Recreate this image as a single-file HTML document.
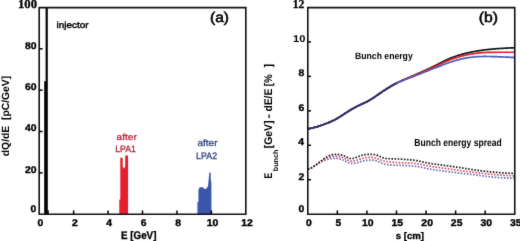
<!DOCTYPE html>
<html><head><meta charset="utf-8"><style>
html,body{margin:0;padding:0;background:#fff;}
body{width:520px;height:241px;overflow:hidden;}
svg{display:block;} text{white-space:pre;text-rendering:geometricPrecision;}
</style></head><body>
<svg width="520" height="241" viewBox="0 0 520 241">
<defs><filter id="soft" x="0" y="0" width="520" height="241" filterUnits="userSpaceOnUse" color-interpolation-filters="sRGB"><feConvolveMatrix order="3" kernelMatrix="0.01 0.07 0.01 0.07 0.68 0.07 0.01 0.07 0.01" edgeMode="duplicate"/></filter></defs>
<g filter="url(#soft)">
<rect width="520" height="241" fill="#fff"/>
<path d="M45.6,7.6 H47.8 V214.2 H45.6Z" fill="#000"/>
<path d="M44.2,81.2 H46 V214.2 H44.2Z" fill="#000"/>
<path d="M47.5,210.3 H48.8 V214 H47.5Z" fill="#000"/>
<path d="M119.3,214.2 V199.5 H120.3 V157.7 H122.7 V166.5 L123.9,168.8 L125.2,166.5 V155.6 H128.1 V214.2 Z" fill="#E3202B"/>
<path d="M197.4,214.2 V202 H198.4 V190 L199.5,187.5 L202.5,187 L204.5,189 L206.5,188.5 L208,186 L209,176 L209.3,172.4 L210.6,172.4 L210.8,180 L211.4,182.5 L211.4,214.2 Z" fill="#3A57AC"/>
<path d="M39.2,214.2 V7.6 H245.8 V214.2 Z" fill="none" stroke="#111" stroke-width="1.6"/>
<path d="M39.5,172.85 H42.6" stroke="#000" stroke-width="1.5"/>
<path d="M39.5,131.5 H42.6" stroke="#000" stroke-width="1.5"/>
<path d="M39.5,90.15 H42.6" stroke="#000" stroke-width="1.5"/>
<path d="M39.5,48.8 H42.6" stroke="#000" stroke-width="1.5"/>
<path d="M73.63,214 V210.4" stroke="#000" stroke-width="1.5"/>
<path d="M108.07,214 V210.4" stroke="#000" stroke-width="1.5"/>
<path d="M142.5,214 V210.4" stroke="#000" stroke-width="1.5"/>
<path d="M176.94,214 V210.4" stroke="#000" stroke-width="1.5"/>
<path d="M211.37,214 V210.4" stroke="#000" stroke-width="1.5"/>
<g fill="none" stroke-width="1.7" stroke-linejoin="round">
<path d="M307.8,128.8 308.49,128.71 309.18,128.6 309.86,128.48 310.55,128.35 311.24,128.21 311.93,128.06 312.61,127.9 313.3,127.73 313.99,127.55 314.68,127.37 315.36,127.18 316.05,126.98 316.74,126.77 317.43,126.57 318.11,126.35 318.8,126.14 319.49,125.92 320.18,125.69 320.86,125.46 321.55,125.23 322.24,125 322.93,124.76 323.61,124.51 324.3,124.26 324.99,124.01 325.68,123.75 326.36,123.48 327.05,123.21 327.74,122.94 328.43,122.66 329.11,122.37 329.8,122.07 330.49,121.77 331.18,121.46 331.86,121.14 332.55,120.82 333.24,120.48 333.93,120.14 334.61,119.78 335.3,119.42 335.99,119.04 336.68,118.66 337.37,118.27 338.05,117.87 338.74,117.46 339.43,117.04 340.12,116.61 340.8,116.17 341.49,115.73 342.18,115.29 342.87,114.84 343.55,114.39 344.24,113.94 344.93,113.49 345.62,113.04 346.3,112.59 346.99,112.14 347.68,111.7 348.37,111.26 349.05,110.83 349.74,110.41 350.43,109.99 351.12,109.58 351.8,109.17 352.49,108.77 353.18,108.39 353.87,108.01 354.55,107.63 355.24,107.27 355.93,106.91 356.62,106.56 357.3,106.22 357.99,105.89 358.68,105.56 359.37,105.23 360.05,104.91 360.74,104.59 361.43,104.28 362.12,103.96 362.8,103.64 363.49,103.32 364.18,103 364.87,102.67 365.55,102.33 366.24,101.99 366.93,101.64 367.62,101.28 368.31,100.91 368.99,100.53 369.68,100.13 370.37,99.73 371.06,99.31 371.74,98.89 372.43,98.45 373.12,98 373.81,97.55 374.49,97.08 375.18,96.61 375.87,96.14 376.56,95.66 377.24,95.18 377.93,94.7 378.62,94.23 379.31,93.75 379.99,93.27 380.68,92.8 381.37,92.34 382.06,91.87 382.74,91.41 383.43,90.96 384.12,90.51 384.81,90.06 385.49,89.61 386.18,89.17 386.87,88.73 387.56,88.29 388.24,87.86 388.93,87.43 389.62,87 390.31,86.58 390.99,86.16 391.68,85.75 392.37,85.35 393.06,84.95 393.74,84.56 394.43,84.17 395.12,83.8 395.81,83.43 396.5,83.07 397.18,82.73 397.87,82.39 398.56,82.05 399.25,81.73 399.93,81.41 400.62,81.09 401.31,80.79 402,80.48 402.68,80.18 403.37,79.88 404.06,79.59 404.75,79.29 405.43,79 406.12,78.71 406.81,78.42 407.5,78.12 408.18,77.83 408.87,77.54 409.56,77.24 410.25,76.95 410.93,76.65 411.62,76.36 412.31,76.06 413,75.76 413.68,75.46 414.37,75.16 415.06,74.86 415.75,74.56 416.43,74.25 417.12,73.95 417.81,73.64 418.5,73.34 419.18,73.03 419.87,72.72 420.56,72.41 421.25,72.1 421.93,71.79 422.62,71.48 423.31,71.17 424,70.86 424.68,70.54 425.37,70.23 426.06,69.91 426.75,69.6 427.44,69.28 428.12,68.96 428.81,68.64 429.5,68.31 430.19,67.99 430.87,67.66 431.56,67.33 432.25,67 432.94,66.67 433.62,66.34 434.31,66 435,65.66 435.69,65.32 436.37,64.98 437.06,64.64 437.75,64.29 438.44,63.94 439.12,63.6 439.81,63.25 440.5,62.9 441.19,62.55 441.87,62.2 442.56,61.86 443.25,61.51 443.94,61.17 444.62,60.84 445.31,60.5 446,60.18 446.69,59.85 447.37,59.53 448.06,59.22 448.75,58.92 449.44,58.62 450.12,58.33 450.81,58.04 451.5,57.76 452.19,57.49 452.87,57.23 453.56,56.97 454.25,56.72 454.94,56.47 455.62,56.23 456.31,56 457,55.77 457.69,55.55 458.38,55.33 459.06,55.12 459.75,54.91 460.44,54.71 461.13,54.51 461.81,54.32 462.5,54.13 463.19,53.94 463.88,53.76 464.56,53.59 465.25,53.41 465.94,53.25 466.63,53.08 467.31,52.92 468,52.76 468.69,52.61 469.38,52.46 470.06,52.32 470.75,52.17 471.44,52.03 472.13,51.9 472.81,51.77 473.5,51.64 474.19,51.51 474.88,51.38 475.56,51.26 476.25,51.15 476.94,51.03 477.63,50.92 478.31,50.81 479,50.7 479.69,50.6 480.38,50.5 481.06,50.4 481.75,50.3 482.44,50.21 483.13,50.12 483.81,50.03 484.5,49.94 485.19,49.86 485.88,49.77 486.57,49.69 487.25,49.62 487.94,49.54 488.63,49.47 489.32,49.39 490,49.32 490.69,49.25 491.38,49.19 492.07,49.12 492.75,49.06 493.44,49 494.13,48.94 494.82,48.88 495.5,48.82 496.19,48.77 496.88,48.72 497.57,48.67 498.25,48.62 498.94,48.57 499.63,48.52 500.32,48.48 501,48.43 501.69,48.39 502.38,48.35 503.07,48.3 503.75,48.26 504.44,48.23 505.13,48.19 505.82,48.15 506.5,48.12 507.19,48.09 507.88,48.05 508.57,48.02 509.25,48 509.94,47.97 510.63,47.94 511.32,47.92 512,47.9 512.69,47.88 513.38,47.86 514.07,47.85 514.75,47.83" stroke="#111"/>
<path d="M307.8,128.8 308.49,128.71 309.18,128.6 309.86,128.48 310.55,128.35 311.24,128.21 311.93,128.06 312.61,127.9 313.3,127.73 313.99,127.55 314.68,127.37 315.36,127.18 316.05,126.98 316.74,126.77 317.43,126.57 318.11,126.35 318.8,126.14 319.49,125.92 320.18,125.69 320.86,125.46 321.55,125.23 322.24,125 322.93,124.76 323.61,124.51 324.3,124.26 324.99,124.01 325.68,123.75 326.36,123.48 327.05,123.21 327.74,122.94 328.43,122.66 329.11,122.37 329.8,122.07 330.49,121.77 331.18,121.46 331.86,121.14 332.55,120.82 333.24,120.48 333.93,120.14 334.61,119.78 335.3,119.42 335.99,119.04 336.68,118.66 337.37,118.27 338.05,117.87 338.74,117.46 339.43,117.04 340.12,116.61 340.8,116.17 341.49,115.73 342.18,115.29 342.87,114.84 343.55,114.39 344.24,113.94 344.93,113.49 345.62,113.04 346.3,112.59 346.99,112.14 347.68,111.7 348.37,111.26 349.05,110.83 349.74,110.41 350.43,109.99 351.12,109.58 351.8,109.17 352.49,108.77 353.18,108.39 353.87,108.01 354.55,107.63 355.24,107.27 355.93,106.91 356.62,106.56 357.3,106.22 357.99,105.89 358.68,105.56 359.37,105.23 360.05,104.91 360.74,104.59 361.43,104.28 362.12,103.96 362.8,103.64 363.49,103.32 364.18,103 364.87,102.67 365.55,102.33 366.24,101.99 366.93,101.64 367.62,101.28 368.31,100.91 368.99,100.53 369.68,100.13 370.37,99.73 371.06,99.31 371.74,98.89 372.43,98.45 373.12,98 373.81,97.55 374.49,97.08 375.18,96.61 375.87,96.14 376.56,95.66 377.24,95.18 377.93,94.7 378.62,94.23 379.31,93.75 379.99,93.27 380.68,92.8 381.37,92.34 382.06,91.87 382.74,91.41 383.43,90.96 384.12,90.5 384.81,90.06 385.49,89.61 386.18,89.17 386.87,88.73 387.56,88.29 388.24,87.86 388.93,87.43 389.62,87 390.31,86.58 390.99,86.16 391.68,85.75 392.37,85.35 393.06,84.96 393.74,84.57 394.43,84.19 395.12,83.82 395.81,83.46 396.5,83.11 397.18,82.77 397.87,82.44 398.56,82.11 399.25,81.8 399.93,81.49 400.62,81.19 401.31,80.89 402,80.59 402.68,80.3 403.37,80.01 404.06,79.72 404.75,79.44 405.43,79.15 406.12,78.86 406.81,78.57 407.5,78.29 408.18,78 408.87,77.71 409.56,77.42 410.25,77.13 410.93,76.83 411.62,76.54 412.31,76.25 413,75.96 413.68,75.66 414.37,75.37 415.06,75.08 415.75,74.78 416.43,74.49 417.12,74.19 417.81,73.9 418.5,73.6 419.18,73.31 419.87,73.01 420.56,72.72 421.25,72.42 421.93,72.12 422.62,71.83 423.31,71.53 424,71.23 424.68,70.93 425.37,70.63 426.06,70.34 426.75,70.04 427.44,69.74 428.12,69.44 428.81,69.15 429.5,68.85 430.19,68.55 430.87,68.25 431.56,67.95 432.25,67.66 432.94,67.36 433.62,67.06 434.31,66.75 435,66.45 435.69,66.15 436.37,65.84 437.06,65.54 437.75,65.23 438.44,64.92 439.12,64.6 439.81,64.29 440.5,63.98 441.19,63.66 441.87,63.35 442.56,63.04 443.25,62.73 443.94,62.42 444.62,62.11 445.31,61.81 446,61.51 446.69,61.21 447.37,60.92 448.06,60.63 448.75,60.35 449.44,60.08 450.12,59.81 450.81,59.55 451.5,59.29 452.19,59.04 452.87,58.8 453.56,58.56 454.25,58.32 454.94,58.1 455.62,57.87 456.31,57.65 457,57.44 457.69,57.23 458.38,57.03 459.06,56.83 459.75,56.64 460.44,56.45 461.13,56.27 461.81,56.09 462.5,55.92 463.19,55.75 463.88,55.58 464.56,55.42 465.25,55.27 465.94,55.11 466.63,54.97 467.31,54.82 468,54.68 468.69,54.54 469.38,54.41 470.06,54.28 470.75,54.15 471.44,54.03 472.13,53.91 472.81,53.8 473.5,53.69 474.19,53.58 474.88,53.48 475.56,53.38 476.25,53.29 476.94,53.2 477.63,53.12 478.31,53.04 479,52.97 479.69,52.91 480.38,52.84 481.06,52.79 481.75,52.74 482.44,52.69 483.13,52.64 483.81,52.61 484.5,52.57 485.19,52.54 485.88,52.51 486.57,52.48 487.25,52.45 487.94,52.43 488.63,52.41 489.32,52.39 490,52.37 490.69,52.36 491.38,52.34 492.07,52.33 492.75,52.32 493.44,52.31 494.13,52.3 494.82,52.29 495.5,52.28 496.19,52.28 496.88,52.27 497.57,52.27 498.25,52.26 498.94,52.26 499.63,52.26 500.32,52.25 501,52.25 501.69,52.25 502.38,52.25 503.07,52.25 503.75,52.25 504.44,52.25 505.13,52.25 505.82,52.25 506.5,52.25 507.19,52.25 507.88,52.25 508.57,52.25 509.25,52.25 509.94,52.25 510.63,52.25 511.32,52.25 512,52.25 512.69,52.25 513.38,52.25 514.07,52.25 514.75,52.25" stroke="#E0202A"/>
<path d="M307.8,128.8 308.49,128.71 309.18,128.6 309.86,128.48 310.55,128.35 311.24,128.21 311.93,128.06 312.61,127.9 313.3,127.73 313.99,127.55 314.68,127.37 315.36,127.18 316.05,126.98 316.74,126.77 317.43,126.57 318.11,126.35 318.8,126.14 319.49,125.92 320.18,125.69 320.86,125.46 321.55,125.23 322.24,125 322.93,124.76 323.61,124.51 324.3,124.26 324.99,124.01 325.68,123.75 326.36,123.48 327.05,123.21 327.74,122.94 328.43,122.66 329.11,122.37 329.8,122.07 330.49,121.77 331.18,121.46 331.86,121.14 332.55,120.82 333.24,120.48 333.93,120.14 334.61,119.78 335.3,119.42 335.99,119.04 336.68,118.66 337.37,118.27 338.05,117.87 338.74,117.46 339.43,117.04 340.12,116.61 340.8,116.17 341.49,115.73 342.18,115.29 342.87,114.84 343.55,114.39 344.24,113.94 344.93,113.49 345.62,113.04 346.3,112.59 346.99,112.14 347.68,111.7 348.37,111.26 349.05,110.83 349.74,110.41 350.43,109.99 351.12,109.58 351.8,109.17 352.49,108.77 353.18,108.39 353.87,108.01 354.55,107.63 355.24,107.27 355.93,106.91 356.62,106.56 357.3,106.22 357.99,105.89 358.68,105.56 359.37,105.23 360.05,104.91 360.74,104.59 361.43,104.28 362.12,103.96 362.8,103.64 363.49,103.32 364.18,103 364.87,102.67 365.55,102.33 366.24,101.99 366.93,101.64 367.62,101.28 368.31,100.91 368.99,100.53 369.68,100.13 370.37,99.73 371.06,99.31 371.74,98.89 372.43,98.45 373.12,98 373.81,97.55 374.49,97.08 375.18,96.61 375.87,96.14 376.56,95.66 377.24,95.18 377.93,94.7 378.62,94.22 379.31,93.75 379.99,93.27 380.68,92.8 381.37,92.33 382.06,91.87 382.74,91.41 383.43,90.96 384.12,90.51 384.81,90.06 385.49,89.62 386.18,89.19 386.87,88.75 387.56,88.32 388.24,87.9 388.93,87.47 389.62,87.06 390.31,86.65 390.99,86.24 391.68,85.84 392.37,85.45 393.06,85.07 393.74,84.69 394.43,84.33 395.12,83.97 395.81,83.63 396.5,83.29 397.18,82.96 397.87,82.65 398.56,82.34 399.25,82.03 399.93,81.74 400.62,81.45 401.31,81.17 402,80.89 402.68,80.62 403.37,80.34 404.06,80.08 404.75,79.81 405.43,79.54 406.12,79.28 406.81,79.01 407.5,78.75 408.18,78.48 408.87,78.22 409.56,77.95 410.25,77.68 410.93,77.42 411.62,77.15 412.31,76.89 413,76.62 413.68,76.35 414.37,76.09 415.06,75.82 415.75,75.55 416.43,75.28 417.12,75.01 417.81,74.74 418.5,74.47 419.18,74.2 419.87,73.93 420.56,73.66 421.25,73.38 421.93,73.11 422.62,72.83 423.31,72.55 424,72.28 424.68,72 425.37,71.72 426.06,71.44 426.75,71.17 427.44,70.89 428.12,70.62 428.81,70.34 429.5,70.07 430.19,69.8 430.87,69.54 431.56,69.27 432.25,69 432.94,68.74 433.62,68.48 434.31,68.22 435,67.96 435.69,67.69 436.37,67.43 437.06,67.17 437.75,66.91 438.44,66.64 439.12,66.38 439.81,66.12 440.5,65.85 441.19,65.59 441.87,65.32 442.56,65.05 443.25,64.79 443.94,64.53 444.62,64.27 445.31,64.01 446,63.75 446.69,63.5 447.37,63.24 448.06,63 448.75,62.75 449.44,62.51 450.12,62.28 450.81,62.04 451.5,61.81 452.19,61.59 452.87,61.37 453.56,61.15 454.25,60.94 454.94,60.73 455.62,60.52 456.31,60.32 457,60.12 457.69,59.93 458.38,59.74 459.06,59.56 459.75,59.38 460.44,59.21 461.13,59.05 461.81,58.89 462.5,58.73 463.19,58.58 463.88,58.44 464.56,58.31 465.25,58.18 465.94,58.05 466.63,57.93 467.31,57.82 468,57.71 468.69,57.61 469.38,57.51 470.06,57.42 470.75,57.33 471.44,57.24 472.13,57.16 472.81,57.09 473.5,57.02 474.19,56.95 474.88,56.88 475.56,56.83 476.25,56.77 476.94,56.72 477.63,56.67 478.31,56.63 479,56.6 479.69,56.57 480.38,56.54 481.06,56.52 481.75,56.5 482.44,56.48 483.13,56.47 483.81,56.46 484.5,56.46 485.19,56.46 485.88,56.46 486.57,56.47 487.25,56.48 487.94,56.48 488.63,56.5 489.32,56.51 490,56.52 490.69,56.54 491.38,56.55 492.07,56.57 492.75,56.59 493.44,56.61 494.13,56.63 494.82,56.65 495.5,56.67 496.19,56.69 496.88,56.72 497.57,56.74 498.25,56.77 498.94,56.79 499.63,56.82 500.32,56.84 501,56.87 501.69,56.9 502.38,56.93 503.07,56.96 503.75,56.99 504.44,57.02 505.13,57.05 505.82,57.08 506.5,57.12 507.19,57.15 507.88,57.18 508.57,57.22 509.25,57.25 509.94,57.28 510.63,57.32 511.32,57.35 512,57.38 512.69,57.4 513.38,57.43 514.07,57.45 514.75,57.47" stroke="#4A5DB5"/>
<path d="M307.8,128.8 308.49,128.71 309.18,128.6 309.86,128.48 310.55,128.35 311.24,128.21 311.93,128.06 312.61,127.9 313.3,127.73 313.99,127.55 314.68,127.37 315.36,127.18 316.05,126.98 316.74,126.77 317.43,126.57 318.11,126.35 318.8,126.14 319.49,125.92 320.18,125.69 320.86,125.46 321.55,125.23 322.24,125 322.93,124.76 323.61,124.51 324.3,124.26 324.99,124.01 325.68,123.75 326.36,123.48 327.05,123.21 327.74,122.94 328.43,122.66 329.11,122.37 329.8,122.07 330.49,121.77 331.18,121.46 331.86,121.14 332.55,120.82 333.24,120.48 333.93,120.14 334.61,119.78 335.3,119.42 335.99,119.04 336.68,118.66 337.37,118.27 338.05,117.87 338.74,117.46 339.43,117.04 340.12,116.61 340.8,116.17 341.49,115.73 342.18,115.29 342.87,114.84 343.55,114.39 344.24,113.94 344.93,113.49 345.62,113.04 346.3,112.59 346.99,112.14 347.68,111.7 348.37,111.26 349.05,110.83 349.74,110.41 350.43,109.99 351.12,109.58 351.8,109.17 352.49,108.77 353.18,108.39 353.87,108.01 354.55,107.63 355.24,107.27 355.93,106.91 356.62,106.56 357.3,106.22 357.99,105.89 358.68,105.56 359.37,105.23 360.05,104.91 360.74,104.59 361.43,104.28 362.12,103.96 362.8,103.64 363.49,103.32 364.18,103 364.87,102.67 365.55,102.33 366.24,101.99 366.93,101.64 367.62,101.28 368.31,100.91 368.99,100.53 369.68,100.13 370.37,99.73 371.06,99.31 371.74,98.89 372.43,98.45 373.12,98 373.81,97.55 374.49,97.08 375.18,96.61 375.87,96.14 376.56,95.66 377.24,95.18 377.93,94.7 378.62,94.22 379.31,93.75 379.99,93.27 380.68,92.8 381.37,92.33 382.06,91.87 382.74,91.41 383.43,90.96 384.12,90.51 384.81,90.06 385.49,89.62 386.18,89.19 386.87,88.75 387.56,88.32 388.24,87.9 388.93,87.47 389.62,87.06 390.31,86.65 390.99,86.24 391.68,85.84 392.37,85.45 393.06,85.07 393.74,84.69 394.43,84.33 395.12,83.97 395.81,83.63 396.5,83.29" stroke="#2E2C62"/>
</g>
<g fill="none" stroke-width="1.7" stroke-dasharray="1.6 1.5">
<path d="M307.8,169.07 308.49,168.92 309.18,168.74 309.86,168.51 310.55,168.24 311.24,167.92 311.93,167.57 312.61,167.18 313.3,166.76 313.99,166.32 314.68,165.87 315.36,165.4 316.05,164.94 316.74,164.47 317.43,164.02 318.11,163.57 318.8,163.14 319.49,162.73 320.18,162.33 320.86,161.96 321.55,161.6 322.24,161.26 322.93,160.94 323.61,160.64 324.3,160.36 324.99,160.1 325.68,159.86 326.36,159.63 327.05,159.42 327.74,159.23 328.43,159.06 329.11,158.91 329.8,158.77 330.49,158.65 331.18,158.56 331.86,158.48 332.55,158.42 333.24,158.38 333.93,158.35 334.61,158.35 335.3,158.36 335.99,158.4 336.68,158.45 337.37,158.53 338.05,158.63 338.74,158.76 339.43,158.9 340.12,159.06 340.8,159.25 341.49,159.46 342.18,159.68 342.87,159.93 343.55,160.2 344.24,160.49 344.93,160.8 345.62,161.13 346.3,161.46 346.99,161.8 347.68,162.14 348.37,162.45 349.05,162.73 349.74,162.97 350.43,163.16 351.12,163.3 351.8,163.39 352.49,163.41 353.18,163.39 353.87,163.32 354.55,163.22 355.24,163.08 355.93,162.92 356.62,162.75 357.3,162.56 357.99,162.37 358.68,162.18 359.37,161.99 360.05,161.8 360.74,161.61 361.43,161.43 362.12,161.26 362.8,161.09 363.49,160.93 364.18,160.78 364.87,160.65 365.55,160.53 366.24,160.42 366.93,160.34 367.62,160.27 368.31,160.22 368.99,160.18 369.68,160.15 370.37,160.14 371.06,160.14 371.74,160.15 372.43,160.18 373.12,160.22 373.81,160.29 374.49,160.39 375.18,160.51 375.87,160.68 376.56,160.88 377.24,161.12 377.93,161.4 378.62,161.7 379.31,162.02 379.99,162.36 380.68,162.69 381.37,163.01 382.06,163.32 382.74,163.6 383.43,163.85 384.12,164.07 384.81,164.25 385.49,164.4 386.18,164.52 386.87,164.62 387.56,164.7 388.24,164.76 388.93,164.81 389.62,164.85 390.31,164.89 390.99,164.92 391.68,164.95 392.37,164.98 393.06,165 393.74,165.03 394.43,165.06 395.12,165.08 395.81,165.1 396.5,165.13 397.18,165.16 397.87,165.18 398.56,165.21 399.25,165.24 399.93,165.27 400.62,165.3 401.31,165.33 402,165.37 402.68,165.4 403.37,165.43 404.06,165.47 404.75,165.5 405.43,165.53 406.12,165.57 406.81,165.6 407.5,165.64 408.18,165.68 408.87,165.72 409.56,165.76 410.25,165.81 410.93,165.85 411.62,165.9 412.31,165.95 413,166.01 413.68,166.07 414.37,166.14 415.06,166.22 415.75,166.3 416.43,166.39 417.12,166.49 417.81,166.6 418.5,166.72 419.18,166.84 419.87,166.97 420.56,167.11 421.25,167.25 421.93,167.4 422.62,167.55 423.31,167.71 424,167.86 424.68,168.01 425.37,168.16 426.06,168.31 426.75,168.46 427.44,168.6 428.12,168.74 428.81,168.87 429.5,169 430.19,169.13 430.87,169.25 431.56,169.37 432.25,169.49 432.94,169.6 433.62,169.71 434.31,169.82 435,169.92 435.69,170.03 436.37,170.13 437.06,170.23 437.75,170.33 438.44,170.43 439.12,170.52 439.81,170.61 440.5,170.71 441.19,170.79 441.87,170.88 442.56,170.97 443.25,171.05 443.94,171.13 444.62,171.22 445.31,171.3 446,171.38 446.69,171.46 447.37,171.54 448.06,171.62 448.75,171.71 449.44,171.79 450.12,171.88 450.81,171.96 451.5,172.05 452.19,172.13 452.87,172.22 453.56,172.31 454.25,172.4 454.94,172.48 455.62,172.57 456.31,172.66 457,172.75 457.69,172.83 458.38,172.92 459.06,173 459.75,173.09 460.44,173.17 461.13,173.26 461.81,173.34 462.5,173.43 463.19,173.51 463.88,173.59 464.56,173.67 465.25,173.76 465.94,173.84 466.63,173.92 467.31,174 468,174.08 468.69,174.16 469.38,174.24 470.06,174.32 470.75,174.4 471.44,174.48 472.13,174.56 472.81,174.65 473.5,174.73 474.19,174.81 474.88,174.89 475.56,174.97 476.25,175.05 476.94,175.13 477.63,175.21 478.31,175.3 479,175.38 479.69,175.46 480.38,175.55 481.06,175.63 481.75,175.72 482.44,175.81 483.13,175.9 483.81,175.98 484.5,176.07 485.19,176.16 485.88,176.25 486.57,176.33 487.25,176.42 487.94,176.5 488.63,176.58 489.32,176.67 490,176.74 490.69,176.82 491.38,176.9 492.07,176.97 492.75,177.04 493.44,177.1 494.13,177.17 494.82,177.23 495.5,177.29 496.19,177.34 496.88,177.4 497.57,177.45 498.25,177.5 498.94,177.55 499.63,177.6 500.32,177.65 501,177.69 501.69,177.74 502.38,177.78 503.07,177.83 503.75,177.87 504.44,177.91 505.13,177.95 505.82,177.99 506.5,178.03 507.19,178.06 507.88,178.1 508.57,178.13 509.25,178.16 509.94,178.19 510.63,178.22 511.32,178.24 512,178.27 512.69,178.29 513.38,178.3 514.07,178.32 514.75,178.33" stroke="#6670A8"/>
<path d="M307.8,169.07 308.49,168.92 309.18,168.74 309.86,168.51 310.55,168.24 311.24,167.93 311.93,167.57 312.61,167.18 313.3,166.76 313.99,166.31 314.68,165.84 315.36,165.36 316.05,164.87 316.74,164.38 317.43,163.89 318.11,163.4 318.8,162.92 319.49,162.45 320.18,161.98 320.86,161.53 321.55,161.09 322.24,160.66 322.93,160.24 323.61,159.84 324.3,159.45 324.99,159.09 325.68,158.74 326.36,158.41 327.05,158.1 327.74,157.81 328.43,157.55 329.11,157.31 329.8,157.1 330.49,156.91 331.18,156.75 331.86,156.62 332.55,156.51 333.24,156.43 333.93,156.37 334.61,156.34 335.3,156.33 335.99,156.34 336.68,156.38 337.37,156.44 338.05,156.53 338.74,156.64 339.43,156.77 340.12,156.92 340.8,157.09 341.49,157.28 342.18,157.49 342.87,157.72 343.55,157.98 344.24,158.26 344.93,158.56 345.62,158.88 346.3,159.22 346.99,159.55 347.68,159.88 348.37,160.19 349.05,160.47 349.74,160.71 350.43,160.89 351.12,161.02 351.8,161.09 352.49,161.1 353.18,161.05 353.87,160.95 354.55,160.81 355.24,160.64 355.93,160.43 356.62,160.22 357.3,159.99 357.99,159.75 358.68,159.52 359.37,159.29 360.05,159.07 360.74,158.85 361.43,158.64 362.12,158.44 362.8,158.25 363.49,158.08 364.18,157.91 364.87,157.77 365.55,157.64 366.24,157.54 366.93,157.45 367.62,157.39 368.31,157.35 368.99,157.33 369.68,157.34 370.37,157.36 371.06,157.4 371.74,157.46 372.43,157.53 373.12,157.62 373.81,157.73 374.49,157.86 375.18,158.01 375.87,158.19 376.56,158.39 377.24,158.61 377.93,158.85 378.62,159.11 379.31,159.38 379.99,159.65 380.68,159.93 381.37,160.19 382.06,160.44 382.74,160.68 383.43,160.89 384.12,161.08 384.81,161.25 385.49,161.4 386.18,161.53 386.87,161.64 387.56,161.73 388.24,161.82 388.93,161.9 389.62,161.97 390.31,162.03 390.99,162.09 391.68,162.15 392.37,162.2 393.06,162.25 393.74,162.3 394.43,162.35 395.12,162.39 395.81,162.43 396.5,162.48 397.18,162.52 397.87,162.56 398.56,162.6 399.25,162.63 399.93,162.67 400.62,162.71 401.31,162.74 402,162.77 402.68,162.81 403.37,162.84 404.06,162.87 404.75,162.9 405.43,162.92 406.12,162.95 406.81,162.98 407.5,163.01 408.18,163.04 408.87,163.06 409.56,163.1 410.25,163.13 410.93,163.16 411.62,163.2 412.31,163.24 413,163.29 413.68,163.34 414.37,163.4 415.06,163.46 415.75,163.53 416.43,163.61 417.12,163.7 417.81,163.8 418.5,163.91 419.18,164.02 419.87,164.14 420.56,164.27 421.25,164.41 421.93,164.54 422.62,164.69 423.31,164.83 424,164.98 424.68,165.12 425.37,165.27 426.06,165.41 426.75,165.55 427.44,165.69 428.12,165.82 428.81,165.95 429.5,166.08 430.19,166.2 430.87,166.32 431.56,166.44 432.25,166.55 432.94,166.66 433.62,166.77 434.31,166.88 435,166.98 435.69,167.09 436.37,167.19 437.06,167.29 437.75,167.4 438.44,167.5 439.12,167.6 439.81,167.7 440.5,167.79 441.19,167.89 441.87,167.99 442.56,168.08 443.25,168.18 443.94,168.27 444.62,168.37 445.31,168.46 446,168.55 446.69,168.65 447.37,168.74 448.06,168.84 448.75,168.93 449.44,169.03 450.12,169.13 450.81,169.23 451.5,169.32 452.19,169.42 452.87,169.52 453.56,169.62 454.25,169.72 454.94,169.83 455.62,169.93 456.31,170.02 457,170.12 457.69,170.22 458.38,170.32 459.06,170.42 459.75,170.51 460.44,170.61 461.13,170.7 461.81,170.79 462.5,170.89 463.19,170.98 463.88,171.07 464.56,171.16 465.25,171.25 465.94,171.34 466.63,171.43 467.31,171.52 468,171.61 468.69,171.7 469.38,171.78 470.06,171.87 470.75,171.96 471.44,172.04 472.13,172.13 472.81,172.21 473.5,172.3 474.19,172.38 474.88,172.47 475.56,172.55 476.25,172.63 476.94,172.71 477.63,172.79 478.31,172.87 479,172.96 479.69,173.04 480.38,173.12 481.06,173.2 481.75,173.28 482.44,173.36 483.13,173.44 483.81,173.52 484.5,173.59 485.19,173.67 485.88,173.75 486.57,173.83 487.25,173.9 487.94,173.98 488.63,174.05 489.32,174.12 490,174.19 490.69,174.26 491.38,174.33 492.07,174.4 492.75,174.46 493.44,174.53 494.13,174.59 494.82,174.65 495.5,174.71 496.19,174.77 496.88,174.82 497.57,174.88 498.25,174.93 498.94,174.98 499.63,175.04 500.32,175.09 501,175.14 501.69,175.19 502.38,175.24 503.07,175.28 503.75,175.33 504.44,175.38 505.13,175.42 505.82,175.47 506.5,175.51 507.19,175.55 507.88,175.59 508.57,175.63 509.25,175.67 509.94,175.71 510.63,175.74 511.32,175.78 512,175.81 512.69,175.84 513.38,175.86 514.07,175.88 514.75,175.9" stroke="#D84E6C"/>
<path d="M307.8,169.07 308.49,168.92 309.18,168.74 309.86,168.51 310.55,168.24 311.24,167.93 311.93,167.58 312.61,167.18 313.3,166.75 313.99,166.3 314.68,165.82 315.36,165.32 316.05,164.81 316.74,164.29 317.43,163.76 318.11,163.23 318.8,162.7 319.49,162.17 320.18,161.63 320.86,161.1 321.55,160.57 322.24,160.05 322.93,159.54 323.61,159.04 324.3,158.55 324.99,158.08 325.68,157.62 326.36,157.19 327.05,156.78 327.74,156.4 328.43,156.04 329.11,155.72 329.8,155.43 330.49,155.17 331.18,154.95 331.86,154.76 332.55,154.6 333.24,154.48 333.93,154.39 334.61,154.33 335.3,154.29 335.99,154.29 336.68,154.31 337.37,154.36 338.05,154.43 338.74,154.52 339.43,154.64 340.12,154.77 340.8,154.93 341.49,155.1 342.18,155.29 342.87,155.51 343.55,155.75 344.24,156.01 344.93,156.29 345.62,156.6 346.3,156.91 346.99,157.23 347.68,157.54 348.37,157.83 349.05,158.09 349.74,158.3 350.43,158.46 351.12,158.56 351.8,158.59 352.49,158.55 353.18,158.45 353.87,158.29 354.55,158.08 355.24,157.84 355.93,157.57 356.62,157.28 357.3,156.99 357.99,156.7 358.68,156.42 359.37,156.16 360.05,155.91 360.74,155.69 361.43,155.48 362.12,155.29 362.8,155.12 363.49,154.96 364.18,154.83 364.87,154.71 365.55,154.6 366.24,154.52 366.93,154.45 367.62,154.39 368.31,154.35 368.99,154.33 369.68,154.32 370.37,154.32 371.06,154.34 371.74,154.37 372.43,154.41 373.12,154.47 373.81,154.55 374.49,154.66 375.18,154.8 375.87,154.97 376.56,155.17 377.24,155.4 377.93,155.66 378.62,155.95 379.31,156.25 379.99,156.55 380.68,156.86 381.37,157.15 382.06,157.43 382.74,157.68 383.43,157.9 384.12,158.09 384.81,158.25 385.49,158.38 386.18,158.48 386.87,158.56 387.56,158.63 388.24,158.67 388.93,158.71 389.62,158.74 390.31,158.77 390.99,158.79 391.68,158.82 392.37,158.84 393.06,158.85 393.74,158.87 394.43,158.89 395.12,158.91 395.81,158.93 396.5,158.95 397.18,158.97 397.87,159 398.56,159.02 399.25,159.05 399.93,159.08 400.62,159.11 401.31,159.15 402,159.19 402.68,159.23 403.37,159.27 404.06,159.31 404.75,159.36 405.43,159.41 406.12,159.46 406.81,159.51 407.5,159.56 408.18,159.62 408.87,159.68 409.56,159.74 410.25,159.81 410.93,159.87 411.62,159.94 412.31,160.02 413,160.1 413.68,160.18 414.37,160.27 415.06,160.36 415.75,160.46 416.43,160.57 417.12,160.69 417.81,160.81 418.5,160.94 419.18,161.08 419.87,161.22 420.56,161.37 421.25,161.53 421.93,161.68 422.62,161.84 423.31,162 424,162.16 424.68,162.32 425.37,162.48 426.06,162.63 426.75,162.77 427.44,162.92 428.12,163.05 428.81,163.18 429.5,163.31 430.19,163.42 430.87,163.54 431.56,163.65 432.25,163.75 432.94,163.85 433.62,163.95 434.31,164.04 435,164.14 435.69,164.23 436.37,164.32 437.06,164.41 437.75,164.5 438.44,164.59 439.12,164.69 439.81,164.78 440.5,164.87 441.19,164.96 441.87,165.06 442.56,165.15 443.25,165.24 443.94,165.34 444.62,165.43 445.31,165.52 446,165.62 446.69,165.71 447.37,165.81 448.06,165.9 448.75,166 449.44,166.1 450.12,166.19 450.81,166.29 451.5,166.39 452.19,166.49 452.87,166.59 453.56,166.69 454.25,166.79 454.94,166.89 455.62,166.99 456.31,167.09 457,167.19 457.69,167.29 458.38,167.4 459.06,167.5 459.75,167.6 460.44,167.71 461.13,167.82 461.81,167.93 462.5,168.03 463.19,168.14 463.88,168.25 464.56,168.36 465.25,168.48 465.94,168.59 466.63,168.7 467.31,168.81 468,168.92 468.69,169.03 469.38,169.14 470.06,169.25 470.75,169.36 471.44,169.47 472.13,169.58 472.81,169.68 473.5,169.78 474.19,169.89 474.88,169.99 475.56,170.08 476.25,170.18 476.94,170.27 477.63,170.36 478.31,170.45 479,170.54 479.69,170.63 480.38,170.71 481.06,170.8 481.75,170.88 482.44,170.96 483.13,171.05 483.81,171.13 484.5,171.21 485.19,171.28 485.88,171.36 486.57,171.44 487.25,171.51 487.94,171.58 488.63,171.66 489.32,171.73 490,171.8 490.69,171.86 491.38,171.93 492.07,171.99 492.75,172.06 493.44,172.12 494.13,172.18 494.82,172.24 495.5,172.3 496.19,172.35 496.88,172.41 497.57,172.46 498.25,172.52 498.94,172.57 499.63,172.62 500.32,172.67 501,172.72 501.69,172.77 502.38,172.82 503.07,172.87 503.75,172.92 504.44,172.96 505.13,173.01 505.82,173.05 506.5,173.1 507.19,173.14 507.88,173.18 508.57,173.22 509.25,173.26 509.94,173.3 510.63,173.33 511.32,173.37 512,173.4 512.69,173.43 513.38,173.45 514.07,173.47 514.75,173.49" stroke="#1a1a22"/>
</g>
<path d="M307.8,214.2 V7.6 H514.75 V214.2 Z" fill="none" stroke="#111" stroke-width="1.6"/>
<path d="M308.1,179.74 H311" stroke="#000" stroke-width="1.5"/>
<path d="M308.1,145.28 H311" stroke="#000" stroke-width="1.5"/>
<path d="M308.1,110.83 H311" stroke="#000" stroke-width="1.5"/>
<path d="M308.1,76.37 H311" stroke="#000" stroke-width="1.5"/>
<path d="M308.1,41.91 H311" stroke="#000" stroke-width="1.5"/>
<path d="M337.37,214 V210.4" stroke="#000" stroke-width="1.5"/>
<path d="M366.93,214 V210.4" stroke="#000" stroke-width="1.5"/>
<path d="M396.5,214 V210.4" stroke="#000" stroke-width="1.5"/>
<path d="M426.06,214 V210.4" stroke="#000" stroke-width="1.5"/>
<path d="M455.62,214 V210.4" stroke="#000" stroke-width="1.5"/>
<path d="M485.19,214 V210.4" stroke="#000" stroke-width="1.5"/>
<text transform="translate(17.99 7.8) scale(1.0333 1)" font-family="Liberation Serif, sans-serif" font-weight="bold" font-size="12.27" fill="#000" stroke="#000" stroke-width="0.3">100</text>
<text transform="translate(24.88 48.7) scale(1.0600 1)" font-family="Liberation Sans, sans-serif" font-weight="bold" font-size="9.80" fill="#000" stroke="#000" stroke-width="0.35">80</text>
<text transform="translate(24.88 90.05) scale(1.0600 1)" font-family="Liberation Sans, sans-serif" font-weight="bold" font-size="9.80" fill="#000" stroke="#000" stroke-width="0.35">60</text>
<text transform="translate(24.88 131.4) scale(1.0600 1)" font-family="Liberation Sans, sans-serif" font-weight="bold" font-size="9.80" fill="#000" stroke="#000" stroke-width="0.35">40</text>
<text transform="translate(24.88 172.75) scale(1.0600 1)" font-family="Liberation Sans, sans-serif" font-weight="bold" font-size="9.80" fill="#000" stroke="#000" stroke-width="0.35">20</text>
<text transform="translate(30.4 211.5) scale(1.0600 1)" font-family="Liberation Sans, sans-serif" font-weight="bold" font-size="9.80" fill="#000" stroke="#000" stroke-width="0.35">0</text>
<text transform="translate(37.49 225.8) scale(1.0600 1)" font-family="Liberation Sans, sans-serif" font-weight="bold" font-size="9.80" fill="#000" stroke="#000" stroke-width="0.35">0</text>
<text transform="translate(71.98 225.8) scale(1.0600 1)" font-family="Liberation Sans, sans-serif" font-weight="bold" font-size="9.80" fill="#000" stroke="#000" stroke-width="0.35">2</text>
<text transform="translate(106.36 225.8) scale(1.0600 1)" font-family="Liberation Sans, sans-serif" font-weight="bold" font-size="9.80" fill="#000" stroke="#000" stroke-width="0.35">4</text>
<text transform="translate(140.79 225.8) scale(1.0600 1)" font-family="Liberation Sans, sans-serif" font-weight="bold" font-size="9.80" fill="#000" stroke="#000" stroke-width="0.35">6</text>
<text transform="translate(175.23 225.8) scale(1.0600 1)" font-family="Liberation Sans, sans-serif" font-weight="bold" font-size="9.80" fill="#000" stroke="#000" stroke-width="0.35">8</text>
<text transform="translate(206.7 225.8) scale(1.0600 1)" font-family="Liberation Sans, sans-serif" font-weight="bold" font-size="9.80" fill="#000" stroke="#000" stroke-width="0.35">10</text>
<text transform="translate(241.13 225.8) scale(1.0600 1)" font-family="Liberation Sans, sans-serif" font-weight="bold" font-size="9.80" fill="#000" stroke="#000" stroke-width="0.35">12</text>
<text transform="translate(120.91 238.9) scale(0.8949 1)" font-family="Liberation Sans, sans-serif" font-weight="bold" font-size="11.01" fill="#000" stroke="#000" stroke-width="0.3">E [GeV]</text>
<text transform="translate(8.7 156.21) rotate(-90) scale(0.9920 1)" font-family="Liberation Sans, sans-serif" font-weight="bold" font-size="10.43" fill="#000">dQ/dE  [pC/GeV]</text>
<text transform="translate(56.5 28) scale(1.1214 1)" font-family="Liberation Sans, sans-serif" font-weight="normal" font-size="8.89" fill="#000" stroke="#000" stroke-width="0.4">injector</text>
<text transform="translate(209.97 22.15) scale(1.1070 1)" font-family="Liberation Sans, sans-serif" font-weight="normal" font-size="14.04" fill="#000" stroke="#000" stroke-width="0.55">(a)</text>
<text transform="translate(116.49 140) scale(1.1232 1)" font-family="Liberation Sans, sans-serif" font-weight="normal" font-size="9.04" fill="#B8243C" stroke="#B8243C" stroke-width="0.3">after</text>
<text transform="translate(115.2 152) scale(0.9434 1)" font-family="Liberation Sans, sans-serif" font-weight="normal" font-size="9.28" fill="#B8243C" stroke="#B8243C" stroke-width="0.3">LPA1</text>
<text transform="translate(197.5 146) scale(1.0580 1)" font-family="Liberation Sans, sans-serif" font-weight="normal" font-size="9.45" fill="#33457E" stroke="#33457E" stroke-width="0.3">after</text>
<text transform="translate(196.09 158.7) scale(0.9519 1)" font-family="Liberation Sans, sans-serif" font-weight="normal" font-size="9.29" fill="#33457E" stroke="#33457E" stroke-width="0.3">LPA2</text>
<text transform="translate(292.76 7.8) scale(0.9537 1)" font-family="Liberation Serif, sans-serif" font-weight="bold" font-size="12.27" fill="#000" stroke="#000" stroke-width="0.3">12</text>
<text transform="translate(293.03 41.6) scale(1.1250 1)" font-family="Liberation Sans, sans-serif" font-weight="bold" font-size="9.86" fill="#000">10</text>
<text transform="translate(298.49 76.47) scale(1.0600 1)" font-family="Liberation Sans, sans-serif" font-weight="bold" font-size="9.80" fill="#000" stroke="#000" stroke-width="0.35">8</text>
<text transform="translate(298.6 110.93) scale(1.0600 1)" font-family="Liberation Sans, sans-serif" font-weight="bold" font-size="9.80" fill="#000" stroke="#000" stroke-width="0.35">6</text>
<text transform="translate(298.29 145.38) scale(1.0600 1)" font-family="Liberation Sans, sans-serif" font-weight="bold" font-size="9.80" fill="#000" stroke="#000" stroke-width="0.35">4</text>
<text transform="translate(298.6 179.84) scale(1.0600 1)" font-family="Liberation Sans, sans-serif" font-weight="bold" font-size="9.80" fill="#000" stroke="#000" stroke-width="0.35">2</text>
<text transform="translate(298.6 212.4) scale(1.0600 1)" font-family="Liberation Sans, sans-serif" font-weight="bold" font-size="9.80" fill="#000" stroke="#000" stroke-width="0.35">0</text>
<text transform="translate(305.89 225.8) scale(1.0600 1)" font-family="Liberation Sans, sans-serif" font-weight="bold" font-size="9.80" fill="#000" stroke="#000" stroke-width="0.35">0</text>
<text transform="translate(335.46 225.8) scale(1.0600 1)" font-family="Liberation Sans, sans-serif" font-weight="bold" font-size="9.80" fill="#000" stroke="#000" stroke-width="0.35">5</text>
<text transform="translate(362.06 225.8) scale(1.0600 1)" font-family="Liberation Sans, sans-serif" font-weight="bold" font-size="9.80" fill="#000" stroke="#000" stroke-width="0.35">10</text>
<text transform="translate(391.57 225.8) scale(1.0600 1)" font-family="Liberation Sans, sans-serif" font-weight="bold" font-size="9.80" fill="#000" stroke="#000" stroke-width="0.35">15</text>
<text transform="translate(421.35 225.8) scale(1.0600 1)" font-family="Liberation Sans, sans-serif" font-weight="bold" font-size="9.80" fill="#000" stroke="#000" stroke-width="0.35">20</text>
<text transform="translate(450.86 225.8) scale(1.0600 1)" font-family="Liberation Sans, sans-serif" font-weight="bold" font-size="9.80" fill="#000" stroke="#000" stroke-width="0.35">25</text>
<text transform="translate(480.53 225.8) scale(1.0600 1)" font-family="Liberation Sans, sans-serif" font-weight="bold" font-size="9.80" fill="#000" stroke="#000" stroke-width="0.35">30</text>
<text transform="translate(510.04 225.8) scale(1.0600 1)" font-family="Liberation Sans, sans-serif" font-weight="bold" font-size="9.80" fill="#000" stroke="#000" stroke-width="0.35">35</text>
<text transform="translate(395.72 238.9) scale(0.9984 1)" font-family="Liberation Sans, sans-serif" font-weight="bold" font-size="9.63" fill="#000" stroke="#000" stroke-width="0.3">s [cm]</text>
<text transform="translate(272.3 178.41) rotate(-90) scale(0.7841 1)" font-family="Liberation Sans, sans-serif" font-weight="bold" font-size="11.16" fill="#000">E</text>
<text transform="translate(277.5 171.2) rotate(-90) scale(1.0125 1)" font-family="Liberation Sans, sans-serif" font-weight="bold" font-size="7.12" fill="#000">bunch</text>
<text transform="translate(272.3 148.22) rotate(-90) scale(0.9312 1)" font-family="Liberation Sans, sans-serif" font-weight="bold" font-size="11.16" fill="#000">[GeV]</text>
<text transform="translate(272.3 118.56) rotate(-90) scale(1.2545 1)" font-family="Liberation Sans, sans-serif" font-weight="bold" font-size="11.16" fill="#000">-</text>
<text transform="translate(272.3 111.51) rotate(-90) scale(0.9170 1)" font-family="Liberation Sans, sans-serif" font-weight="bold" font-size="11.16" fill="#000">dE/E</text>
<text transform="translate(272.3 86.34) rotate(-90) scale(0.8843 1)" font-family="Liberation Sans, sans-serif" font-weight="bold" font-size="11.16" fill="#000">[%</text>
<text transform="translate(272.3 67.4) rotate(-90) scale(0.9293 1)" font-family="Liberation Sans, sans-serif" font-weight="bold" font-size="11.16" fill="#000">]</text>
<text transform="translate(478.86 22.15) scale(1.1200 1)" font-family="Liberation Sans, sans-serif" font-weight="normal" font-size="14.04" fill="#000" stroke="#000" stroke-width="0.55">(b)</text>
<text transform="translate(354.99 58.9) scale(0.9342 1)" font-family="Liberation Sans, sans-serif" font-weight="bold" font-size="9.28" fill="#000">Bunch energy</text>
<text transform="translate(414.3 145.6) scale(0.8322 1)" font-family="Liberation Sans, sans-serif" font-weight="bold" font-size="10.29" fill="#000">Bunch energy spread</text>
</g>
</svg>
</body></html>
